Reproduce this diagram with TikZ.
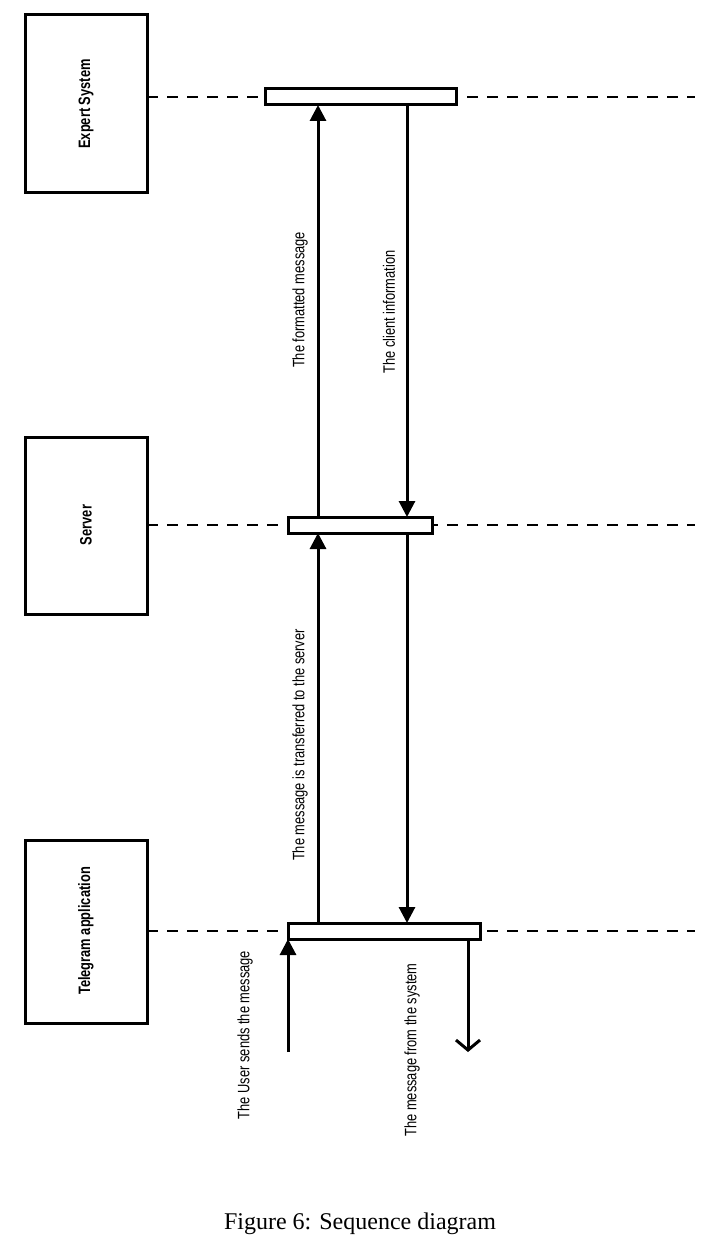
\documentclass[tikz,border=0pt]{standalone}
\usepackage{fontspec}
\setmainfont{Liberation Serif}
\newfontfamily\lblfont{Liberation Sans}
\usetikzlibrary{arrows.meta}
\begin{document}
\begin{tikzpicture}[x=1pt,y=-1pt,
  actor/.style={draw,line width=3pt},
  life/.style={line width=2.2pt,dash pattern=on 11pt off 9pt},
  bar/.style={draw,line width=3pt,fill=white},
  msg/.style={line width=3pt,-{Triangle[length=16pt,width=16pt]}},
  lbl/.style={rotate=90,font=\lblfont\fontsize{16.5}{18}\selectfont,xscale=0.78},
  albl/.style={rotate=90,font=\lblfont\bfseries\fontsize{16.5}{18}\selectfont,xscale=0.78}]
\useasboundingbox (0,0) rectangle (719,1238);
% actors
\draw[actor] (25,15) rectangle (147,193);
\node[albl] (es) at (86,104) {Expert System};
\draw[actor] (25,437) rectangle (147,614);
\node[albl] (sv) at (86,525) {Server};
\draw[actor] (25,840) rectangle (147,1023);
\node[albl] (tg) at (86,931) {Telegram application};
% lifelines
\draw[life] (147,97) -- (695,97);
\draw[life] (147,525) -- (695,525);
\draw[life] (147,931) -- (695,931);
% bars
\draw[bar] (265,89) rectangle (456,105);
\draw[bar] (288,517) rectangle (432,533);
\draw[bar] (288,923) rectangle (480,939);
% messages
\coordinate (a1) at (318,517); \coordinate (a2) at (318,105);
\draw[msg] (a1) -- (a2);
\coordinate (b1) at (407,105); \coordinate (b2) at (407,517);
\draw[msg] (b1) -- (b2);
\coordinate (c1) at (318,923); \coordinate (c2) at (318,533);
\draw[msg] (c1) -- (c2);
\coordinate (d1) at (407,533); \coordinate (d2) at (407,923);
\draw[msg] (d1) -- (d2);
\coordinate (e1) at (288,1052); \coordinate (e2) at (288,939);
\draw[msg] (e1) -- (e2);
\coordinate (f1) at (468,939); \coordinate (f2) at (468,1052);
\draw[line width=3pt,-{Straight Barb[length=10pt,width=24pt,line width=3pt]}] (f1) -- (f2);
% labels
\node[lbl] (l1) at (300,300) {The formatted message};
\node[lbl] (l2) at (389,312) {The client information};
\node[lbl] (l3) at (300,745) {The message is transferred to the server};
\node[lbl] (l4) at (245,1035) {The User sends the message};
\node[lbl] (l5) at (412,1050) {The message from the system};
% caption
\node[font=\fontsize{24}{26}\selectfont] (cap) at (360,1224) {Figure 6: Sequence diagram};
\end{tikzpicture}
\end{document}
